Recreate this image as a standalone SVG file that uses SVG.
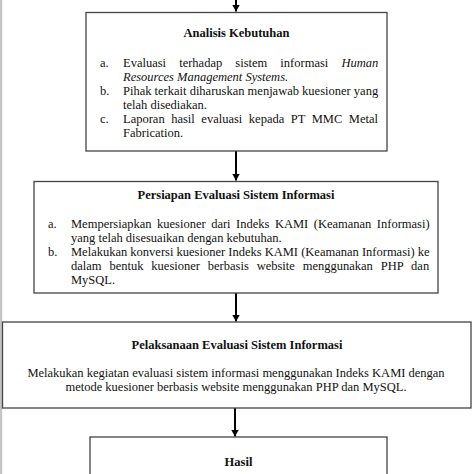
<svg xmlns="http://www.w3.org/2000/svg" width="474" height="474" viewBox="0 0 474 474">
<style>
.box{fill:#fff;stroke:#444;stroke-width:1.3}
.t{font-family:"Liberation Serif","Times New Roman",serif;font-size:12.5px;fill:#111}
.b{font-weight:bold;text-anchor:middle}
.c{text-anchor:middle}
.i{font-style:italic}
.arr{stroke:#000;stroke-width:2;fill:none}
</style>
<defs>
<marker id="ah" markerUnits="userSpaceOnUse" markerWidth="8" markerHeight="8" refX="7" refY="4" orient="auto">
<path d="M0,0 L7,4 L0,8 Z" fill="#000"/>
</marker>
</defs>
<rect x="0" y="0" width="474" height="474" fill="#fff"/>
<rect x="0" y="0" width="2.2" height="474" fill="#c4c4c4"/>
<g id="connectors">
<line class="arr" x1="236" y1="0" x2="236" y2="11.5" marker-end="url(#ah)"/>
<line class="arr" x1="236" y1="151" x2="236" y2="180.5" marker-end="url(#ah)"/>
<line class="arr" x1="236" y1="293" x2="236" y2="321.5" marker-end="url(#ah)"/>
<line class="arr" x1="235" y1="408" x2="235" y2="436.5" marker-end="url(#ah)"/>
</g>
<g id="node-analisis">
<rect class="box" x="86" y="12.5" width="301" height="138.5"/>
<text class="t b" x="236.5" y="37">Analisis Kebutuhan</text>
<text class="t" x="100" y="67">a.</text>
<text class="t" x="123" y="67" style="word-spacing:9.99px">Evaluasi terhadap sistem informasi <tspan class="i">Human</tspan></text>
<text class="t i" x="123" y="81">Resources Management Systems.</text>
<text class="t" x="100" y="95">b.</text>
<text class="t" x="123" y="95">Pihak terkait diharuskan menjawab kuesioner yang</text>
<text class="t" x="123" y="109">telah disediakan.</text>
<text class="t" x="100" y="123">c.</text>
<text class="t" x="123" y="123" style="word-spacing:3.42px">Laporan hasil evaluasi kepada PT MMC Metal</text>
<text class="t" x="123" y="137">Fabrication.</text>
</g>
<g id="node-persiapan">
<rect class="box" x="34" y="181.5" width="404" height="111.5"/>
<text class="t b" x="236" y="199">Persiapan Evaluasi Sistem Informasi</text>
<text class="t" x="48" y="228">a.</text>
<text class="t" x="71" y="228" style="word-spacing:2.38px">Mempersiapkan kuesioner dari Indeks KAMI (Keamanan Informasi)</text>
<text class="t" x="71" y="242">yang telah disesuaikan dengan kebutuhan.</text>
<text class="t" x="48" y="256">b.</text>
<text class="t" x="71" y="256">Melakukan konversi kuesioner Indeks KAMI (Keamanan Informasi) ke</text>
<text class="t" x="71" y="270" style="word-spacing:4.76px">dalam bentuk kuesioner berbasis website menggunakan PHP dan</text>
<text class="t" x="71" y="284">MySQL.</text>
</g>
<g id="node-pelaksanaan">
<rect class="box" x="2.5" y="322" width="468.5" height="86"/>
<text class="t b" x="237" y="349">Pelaksanaan Evaluasi Sistem Informasi</text>
<text class="t c" x="236" y="377">Melakukan kegiatan evaluasi sistem informasi menggunakan Indeks KAMI dengan</text>
<text class="t c" x="236" y="391">metode kuesioner berbasis website menggunakan PHP dan MySQL.</text>
</g>
<g id="node-hasil">
<rect class="box" x="90" y="437" width="297" height="60"/>
<text class="t b" x="238.5" y="466">Hasil</text>
</g>
</svg>
